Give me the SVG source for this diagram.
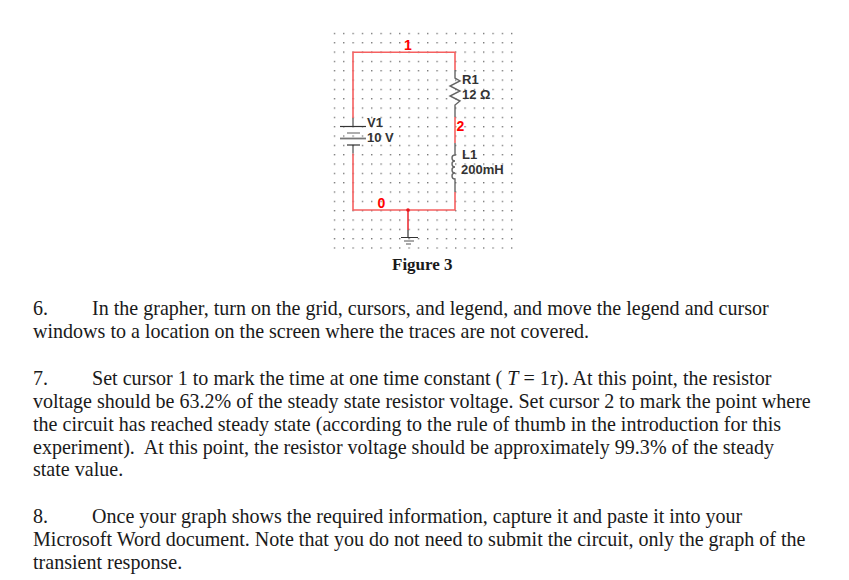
<svg xmlns="http://www.w3.org/2000/svg" width="849" height="580" viewBox="0 0 849 580">
<style>
.b{font-family:"Liberation Serif","Times New Roman",serif;font-size:20.06px;fill:#1a1a1a;white-space:pre}
.l{font-family:"Liberation Sans",Arial,sans-serif;font-size:13px;font-weight:bold;fill:#333}
.n{font-family:"Liberation Sans",Arial,sans-serif;font-size:14px;font-weight:bold;fill:#f00}
.w{fill:none;stroke:#f56060;stroke-width:1.6}
.g{fill:none;stroke:#666;stroke-width:1.4}
.k{fill:none;stroke:#333;stroke-width:1.2}
</style>
<defs>
<pattern id="dots" x="333.8" y="32.8" width="9.33" height="9.33" patternUnits="userSpaceOnUse"><rect width="1.3" height="1.3" fill="#666"/></pattern>
</defs>
<rect width="849" height="580" fill="#fff"/>
<rect x="333" y="32" width="180" height="217" fill="url(#dots)"/>
<g id="connectors">
<path class="w" d="M353 118V52.3H455V70"/>
<path class="w" d="M455 117V143"/>
<path class="w" d="M353 153.500V210H455V192"/>
<path d="M408 210V230" fill="none" stroke="#e8141c" stroke-width="1.4"/>
<circle cx="408" cy="210" r="1.800" fill="#e8141c"/>
</g>
<g id="V1">
<path class="g" d="M353 118V126.500M353 145V153.500"/>
<path class="k" d="M340 126.500H366"/>
<path d="M347 133H360" stroke="#777" stroke-width="1.2"/>
<path d="M340 138.500H366" stroke="#777" stroke-width="1.800"/>
<path class="k" d="M347 145H360"/>
<text class="l" x="367" y="127">V1</text>
<text class="l" x="367" y="141.500">10 V</text>
</g>
<g id="R1">
<path class="g" d="M455 70V78L460 81L450 86L460 91L450 96L460 101L455 105V117"/>
<text class="l" x="462" y="84">R1</text>
<text class="l" x="462" y="99">12 Ω</text>
</g>
<g id="L1">
<path class="g" d="M455 143V155a3 3 0 0 0 0 6a3 3 0 0 0 0 6a3 3 0 0 0 0 6a3 3 0 0 0 0 6V192"/>
<text class="l" x="462" y="158.500">L1</text>
<text class="l" x="461" y="173.500">200mH</text>
</g>
<g id="GND">
<path d="M408 230V237" stroke="#333" stroke-width="1.2"/>
<path d="M401 237.500H418" stroke="#333" stroke-width="1"/>
<path d="M404 241H414" stroke="#555" stroke-width="1"/>
<path d="M406 244H411" stroke="#555" stroke-width="1"/>
</g>
<g id="nodes-labels">
<text class="n" x="404" y="50">1</text>
<text class="n" x="456.500" y="131">2</text>
<text class="n" x="377.500" y="208">0</text>
</g>
<text x="392" y="270" font-family="Liberation Serif" font-size="17" font-weight="bold" fill="#1a1a1a">Figure 3</text>
<g id="body">
<text class="b" x="33" y="314.700">6.</text>
<text class="b" x="92" y="314.700">In the grapher, turn on the grid, cursors, and legend, and move the legend and cursor</text>
<text class="b" x="33" y="337.700">windows to a location on the screen where the traces are not covered.</text>
<text class="b" x="33" y="384.700">7.</text>
<text class="b" x="92" y="384.700">Set cursor 1 to mark the time at one time constant ( <tspan font-style="italic">T</tspan> = 1<tspan font-style="italic">τ</tspan>). At this point, the resistor</text>
<text class="b" x="33" y="407.700">voltage should be 63.2% of the steady state resistor voltage. Set cursor 2 to mark the point where</text>
<text class="b" x="33" y="430.700">the circuit has reached steady state (according to the rule of thumb in the introduction for this</text>
<text class="b" x="33" y="453.700">experiment).  At this point, the resistor voltage should be approximately 99.3% of the steady</text>
<text class="b" x="33" y="476.300">state value.</text>
<text class="b" x="33" y="522.700">8.</text>
<text class="b" x="92" y="522.700">Once your graph shows the required information, capture it and paste it into your</text>
<text class="b" x="33" y="545.700">Microsoft Word document. Note that you do not need to submit the circuit, only the graph of the</text>
<text class="b" x="33" y="568.700">transient response.</text>
</g>
</svg>
